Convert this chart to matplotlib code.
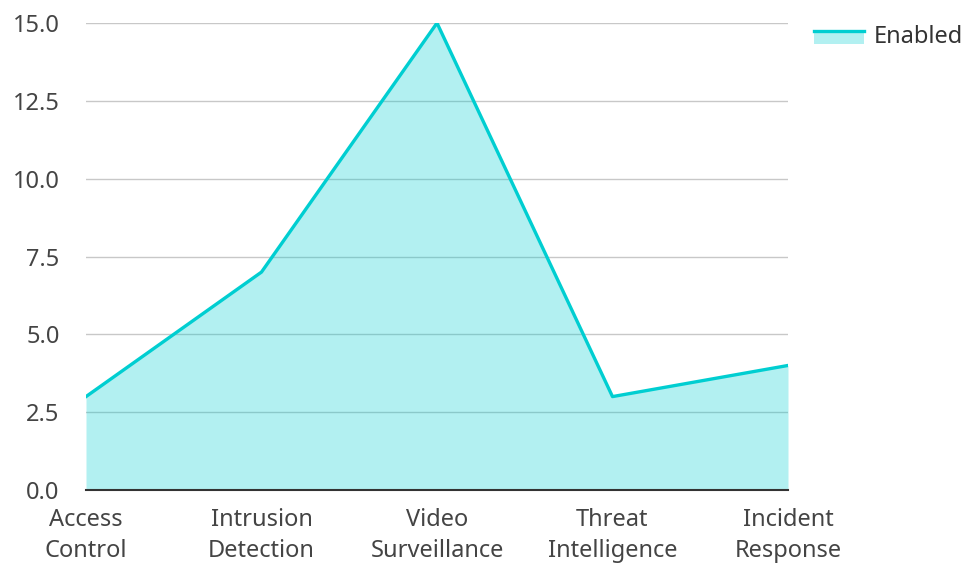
import matplotlib.pyplot as plt
from matplotlib.patches import Rectangle
from matplotlib.lines import Line2D
from matplotlib.legend_handler import HandlerBase

# data
categories = ["Access\nControl", "Intrusion\nDetection", "Video\nSurveillance",
              "Threat\nIntelligence", "Incident\nResponse"]
enabled = [3, 7, 15, 3, 4]
y_ticks = [0.0, 2.5, 5.0, 7.5, 10.0, 12.5, 15.0]

plt.rcParams['font.family'] = ['Noto Sans', 'DejaVu Sans']

line_color = "#00CED1"
fsize = 17


class AreaHandler(HandlerBase):
    # line on top of a light filled box, like the reference legend
    def create_artists(self, legend, orig_handle, xdescent, ydescent,
                       width, height, fontsize, trans):
        top = height * 0.75
        rect = Rectangle((-xdescent, top - height * 0.8), width, height * 0.8,
                         facecolor=line_color, alpha=0.3, linewidth=0,
                         transform=trans)
        ln = Line2D([-xdescent, -xdescent + width], [top, top],
                    color=line_color, linewidth=2.4, transform=trans)
        return [rect, ln]


fig = plt.figure(figsize=(9.68, 5.66), dpi=100)
ax = fig.add_axes([86 / 968, 76 / 566, 702 / 968, 467 / 566])

x = list(range(len(categories)))
ax.fill_between(x, enabled, 0, color=line_color, alpha=0.3, linewidth=0)
ax.plot(x, enabled, color=line_color, linewidth=2.4)

ax.set_xlim(0, len(categories) - 1)
ax.set_ylim(0, 15)
ax.set_yticks(y_ticks)
ax.set_yticklabels([f"{v:.1f}" for v in y_ticks])
ax.set_xticks(x)
ax.set_xticklabels(categories, linespacing=1.4)

ax.grid(axis="y", color="#c8c8c8", linewidth=1)
ax.set_axisbelow(True)
for side in ["top", "right", "left"]:
    ax.spines[side].set_visible(False)
ax.spines["bottom"].set_color("#333333")
ax.spines["bottom"].set_linewidth(1.5)
ax.tick_params(axis="both", length=0, labelsize=fsize, labelcolor="#444444")
ax.tick_params(axis="x", pad=13)
ax.tick_params(axis="y", pad=19)

leg = fig.legend([object()], ["Enabled"], handler_map={object: AreaHandler()},
                 loc="upper right", bbox_to_anchor=(1.005, 0.972), frameon=False,
                 fontsize=fsize, handlelength=2.1, handletextpad=0.45,
                 borderaxespad=0)
for t in leg.get_texts():
    t.set_color("#333333")

fig.savefig("out.png", dpi=100)
